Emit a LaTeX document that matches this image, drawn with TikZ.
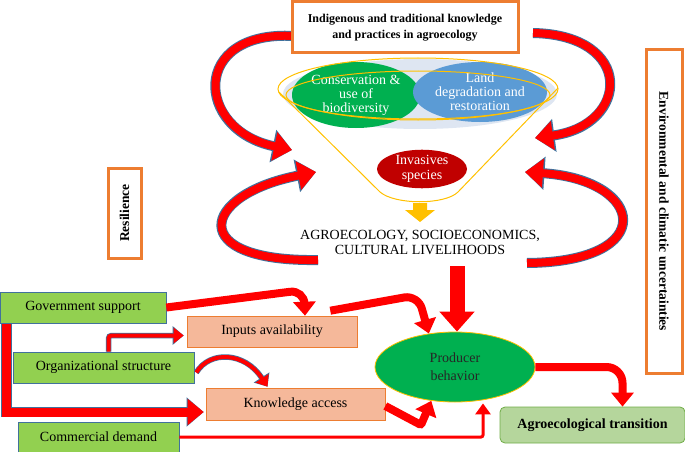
\documentclass[tikz,border=0pt]{standalone}
\usepackage{fontspec}
\setmainfont{Liberation Serif}
\usetikzlibrary{shapes.geometric,arrows.meta,calc}
\definecolor{boxorange}{HTML}{ED7D31}
\definecolor{funnelyellow}{HTML}{FFC000}
\definecolor{darkgreen}{HTML}{00B050}
\definecolor{landblue}{HTML}{5B9BD5}
\definecolor{darkred}{HTML}{C00000}
\definecolor{leafgreen}{HTML}{92D050}
\definecolor{salmon}{HTML}{F5B89A}
\definecolor{edgeblue}{HTML}{41719C}
\definecolor{palefill}{HTML}{DEE6F2}
\definecolor{transgreen}{HTML}{B5D69C}
\definecolor{transedge}{HTML}{70AD47}

\begin{document}
\begin{tikzpicture}[x=1pt,y=-1pt,
  every node/.style={font=\fontsize{14}{15}\selectfont},
  titlebox/.style={draw=boxorange,line width=3pt,fill=white,align=center,font=\bfseries\fontsize{12}{16}\selectfont},
  sidebox/.style={draw=boxorange,line width=3pt,fill=white,font=\bfseries\fontsize{13.5}{16}\selectfont},
  factor/.style={draw=edgeblue,line width=0.6pt,fill=leafgreen,minimum height=31pt,inner sep=0pt},
  access/.style={draw=boxorange,line width=0.6pt,fill=salmon,minimum height=31pt,inner sep=0pt},
  blob/.style={ellipse,inner sep=0pt,align=center,text=white},
  ribbon/.style={red,line width=8pt,-{Triangle[length=18pt,width=28pt]},
    preaction={draw=edgeblue,line width=10pt,-{Triangle[length=19.5pt,width=32pt]}}},
  flow/.style={red,line width=8pt,rounded corners=14pt,-{Triangle[length=14pt,width=22pt]}},
  thinedge/.style={red,line width=4pt,rounded corners=3pt,-{Triangle[length=10pt,width=15pt]},
    preaction={draw=edgeblue,line width=5.5pt,-{Triangle[length=11pt,width=18pt]}}},
  wideedge/.style={red,line width=9pt,-{Triangle[length=16pt,width=25pt]},
    preaction={draw=edgeblue,line width=10.5pt,-{Triangle[length=17pt,width=28pt]}}}
]
  \useasboundingbox (0,0) rectangle (685,452);
  % Funnel top
  \fill[palefill] (420,94) ellipse (137 and 35);
  \node[blob,fill=darkgreen,minimum width=128pt,minimum height=66pt,font=\fontsize{14}{14}\selectfont] (cons) at (356,95) {Conservation \&\\use of\\biodiversity};
  \node[blob,fill=landblue,minimum width=134pt,minimum height=60pt,font=\fontsize{14}{14}\selectfont] (land) at (480,92) {Land\\degradation and\\restoration};
  \draw[funnelyellow,line width=1pt] (418,89) ellipse (140 and 31);
  \draw[funnelyellow,line width=1pt] (418,95) ellipse (132 and 24);
  \draw[funnelyellow,line width=1pt] (279,92) -- (380,192) .. controls (395,205) and (445,205) .. (458,192) -- (558,88);
  \node[blob,fill=darkred,minimum width=90pt,minimum height=38pt] (inv) at (422,169) {Invasives\\species};
  \fill[funnelyellow] (413,203) -- (427,203) -- (427,210) -- (435,210) -- (420,222) -- (405,210) -- (413,210) -- cycle;
  \node[align=center] (outc) at (420,242) {AGROECOLOGY, SOCIOECONOMICS,\\CULTURAL LIVELIHOODS};
  % Feedback ribbons
  \draw[ribbon] (294,36) .. controls (190,30) and (195,130) .. (292,150);
  \draw[ribbon] (318,260) .. controls (185,262) and (200,195) .. (316,172);
  \draw[ribbon] (533,33) .. controls (635,35) and (630,125) .. (535,138);
  \draw[ribbon] (527,263) .. controls (660,262) and (645,180) .. (525,172);
  % Frames
  \node[titlebox,minimum width=226pt,minimum height=51pt] (ikp) at (405,27.5) {Indigenous and traditional knowledge\\and practices in agroecology};
  \node[sidebox,rotate=90,minimum width=90pt,minimum height=33pt] (res) at (124.5,213) {Resilience};
  \node[sidebox,rotate=-90,minimum width=323pt,minimum height=36pt] (env) at (664,211.5) {Environmental and climatic uncertainties};
  % Drivers
  \node[factor,minimum width=166pt] (gov) at (83,307.5) {Government support};
  \node[factor,minimum width=181pt] (org) at (103.5,367.5) {Organizational structure};
  \node[factor,minimum width=161pt,minimum height=30pt] (com) at (98.5,437) {Commercial demand};
  \node[access,minimum width=170pt] (inp) at (272,331.5) {Inputs availability};
  \node[access,minimum width=179pt,minimum height=32pt] (kno) at (295.5,404) {Knowledge access};
  \node[ellipse,draw=funnelyellow,line width=0.8pt,fill=darkgreen,minimum width=160pt,minimum height=70pt,align=center,inner sep=0pt,text=black!85,font=\fontsize{14}{18}\selectfont] (prod) at (455,367) {Producer\\behavior};
  \node[draw=transedge,line width=0.8pt,fill=transgreen,rounded corners=5pt,minimum width=185pt,minimum height=36pt,font=\bfseries\fontsize{14}{16}\selectfont] (agro) at (592.5,425) {Agroecological transition};
  % Links
  \coordinate (drv) at (457,266);
  \draw[flow] (gov.east) -- (304,290) -- ($(inp.north)+(33,0)$);
  \draw[flow] ($(inp.north east)+(-27,-5)$) -- (418,295) -- (prod.128);
  \draw[flow,line width=15pt,-{Triangle[length=20pt,width=34pt]}] (drv) -- (drv |- prod.north);
  \draw[thinedge] ($(org.north)+(5,0)$) |- ($(inp.west)+(-3,4)$);
  \draw[thinedge] ($(org.east)+(2,5)$) .. controls (210,350) and (245,352) .. ($(kno.north)+(-28,-1)$);
  \draw[wideedge] ($(gov.south west)+(7,1)$) |- ($(kno.west)+(-2,8)$);
  \draw[flow,rounded corners=2pt] ($(kno.east)+(0,2)$) -- (421,425) -- (prod.235);
  \draw[flow,line width=3pt,rounded corners=2pt,-{Triangle[length=11pt,width=15pt]}] (com.east) -| ($(prod.south)+(28,1)$);
  \draw[flow,rounded corners=16pt] (prod.east) -| ($(agro.north)+(30,0)$);
\end{tikzpicture}
\end{document}
